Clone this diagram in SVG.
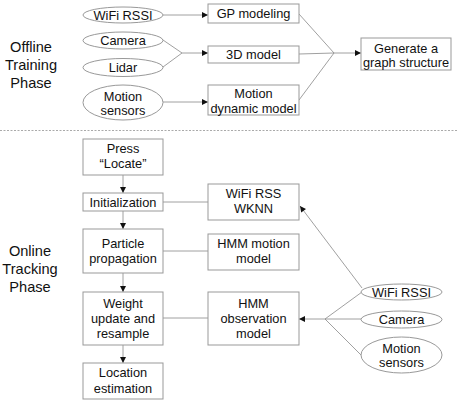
<svg xmlns="http://www.w3.org/2000/svg" width="457" height="403" viewBox="0 0 457 403">
<style>
.box{fill:#fff;stroke:#999;stroke-width:1}
.ell{fill:#fff;stroke:#999;stroke-width:1}
.t{font-family:"Liberation Sans",Arial,sans-serif;font-size:12.8px;fill:#111;text-anchor:middle}
.ph{font-family:"Liberation Sans",Arial,sans-serif;font-size:14.6px;fill:#111;text-anchor:middle}
.ln{fill:none;stroke:#888;stroke-width:0.8}
.ar{fill:none;stroke:#888;stroke-width:0.8;marker-end:url(#ah)}
</style>
<defs>
<marker id="ah" viewBox="0 0 10 10" refX="10" refY="5" markerUnits="userSpaceOnUse" markerWidth="7" markerHeight="6" orient="auto">
<path d="M0,0 L10,5 L0,10 z" fill="#111"/>
</marker>
</defs>
<rect width="457" height="403" fill="#fff"/>
<g id="phase-labels">
<text class="ph" x="31" y="52">Offline</text>
<text class="ph" x="31" y="70">Training</text>
<text class="ph" x="31" y="88">Phase</text>
<text class="ph" x="30" y="256">Online</text>
<text class="ph" x="30" y="274">Tracking</text>
<text class="ph" x="30" y="292">Phase</text>
</g>
<line x1="0" y1="130.5" x2="457" y2="130.5" stroke="#aaa" stroke-width="1" stroke-dasharray="2,1.5"/>
<g id="connectors">
<line class="ar" x1="163" y1="15" x2="208" y2="15"/>
<polyline class="ln" points="163,40 182,53 163,67"/>
<line class="ar" x1="182" y1="53" x2="208" y2="53"/>
<line class="ar" x1="163" y1="102" x2="208" y2="102"/>
<polyline class="ln" points="299,14 334,53 299,100"/>
<line class="ln" x1="299" y1="54" x2="334" y2="53"/>
<line class="ar" x1="334" y1="53" x2="361" y2="53"/>
<line class="ar" x1="123" y1="175" x2="123" y2="193"/>
<line class="ar" x1="123" y1="211" x2="123" y2="229"/>
<line class="ar" x1="123" y1="273" x2="123" y2="292"/>
<line class="ar" x1="123" y1="345" x2="123" y2="363"/>
<line class="ln" x1="163" y1="202" x2="208" y2="202"/>
<line class="ln" x1="163" y1="251" x2="208" y2="251"/>
<line class="ln" x1="163" y1="318" x2="208" y2="318"/>
<polyline class="ln" points="362,292 325,319 361,355"/>
<line class="ln" x1="361" y1="319" x2="325" y2="319"/>
<line class="ar" x1="325" y1="319" x2="299" y2="319"/>
<line class="ar" x1="362" y1="288" x2="300" y2="206"/>
</g>
<g id="wifi-top"><ellipse class="ell" cx="123" cy="15" rx="40" ry="8"/><text class="t" x="123" y="19.5">WiFi RSSI</text></g>
<g id="camera-top"><ellipse class="ell" cx="123" cy="40.5" rx="40" ry="8.5"/><text class="t" x="123" y="45">Camera</text></g>
<g id="lidar"><ellipse class="ell" cx="123" cy="67.5" rx="40" ry="9"/><text class="t" x="123" y="72">Lidar</text></g>
<g id="motion-top"><ellipse class="ell" cx="123" cy="102.5" rx="40" ry="17.5"/><text class="t" x="123" y="101">Motion</text><text class="t" x="123" y="115">sensors</text></g>
<g id="gp"><rect class="box" x="208" y="4" width="91" height="19"/><text class="t" x="253.5" y="18">GP modeling</text></g>
<g id="model3d"><rect class="box" x="208" y="46" width="91" height="17"/><text class="t" x="253.5" y="59">3D model</text></g>
<g id="motion-dyn"><rect class="box" x="208" y="85" width="91" height="30"/><text class="t" x="253.5" y="97.5">Motion</text><text class="t" x="253.5" y="113">dynamic model</text></g>
<g id="graph"><rect class="box" x="361" y="38" width="90" height="32"/><text class="t" x="406" y="52.5">Generate a</text><text class="t" x="406" y="67">graph structure</text></g>
<g id="press"><rect class="box" x="83" y="139" width="80" height="36"/><text class="t" x="123" y="152.5">Press</text><text class="t" x="123" y="167.5">“Locate”</text></g>
<g id="init"><rect class="box" x="83" y="193" width="80" height="18"/><text class="t" x="123" y="206.5">Initialization</text></g>
<g id="particle"><rect class="box" x="83" y="229" width="80" height="44"/><text class="t" x="123" y="248">Particle</text><text class="t" x="123" y="263">propagation</text></g>
<g id="weight"><rect class="box" x="83" y="292" width="80" height="53"/><text class="t" x="123" y="307.5">Weight</text><text class="t" x="123" y="323">update and</text><text class="t" x="123" y="338">resample</text></g>
<g id="location"><rect class="box" x="83" y="363" width="80" height="36"/><text class="t" x="123" y="377">Location</text><text class="t" x="123" y="392.5">estimation</text></g>
<g id="wknn"><rect class="box" x="208" y="184" width="91" height="36"/><text class="t" x="253.5" y="198">WiFi RSS</text><text class="t" x="253.5" y="213">WKNN</text></g>
<g id="hmm-motion"><rect class="box" x="208" y="234" width="91" height="36"/><text class="t" x="253.5" y="248">HMM motion</text><text class="t" x="253.5" y="263">model</text></g>
<g id="hmm-obs"><rect class="box" x="208" y="292" width="91" height="53"/><text class="t" x="253.5" y="307.5">HMM</text><text class="t" x="253.5" y="323">observation</text><text class="t" x="253.5" y="338">model</text></g>
<g id="wifi-bot"><ellipse class="ell" cx="401.5" cy="292" rx="40.5" ry="8"/><text class="t" x="401.5" y="296.5">WiFi RSSI</text></g>
<g id="camera-bot"><ellipse class="ell" cx="401.5" cy="319.5" rx="40.5" ry="8.5"/><text class="t" x="401.5" y="324">Camera</text></g>
<g id="motion-bot"><ellipse class="ell" cx="401.5" cy="355" rx="40.5" ry="18"/><text class="t" x="401.5" y="352.5">Motion</text><text class="t" x="401.5" y="367">sensors</text></g>
</svg>
